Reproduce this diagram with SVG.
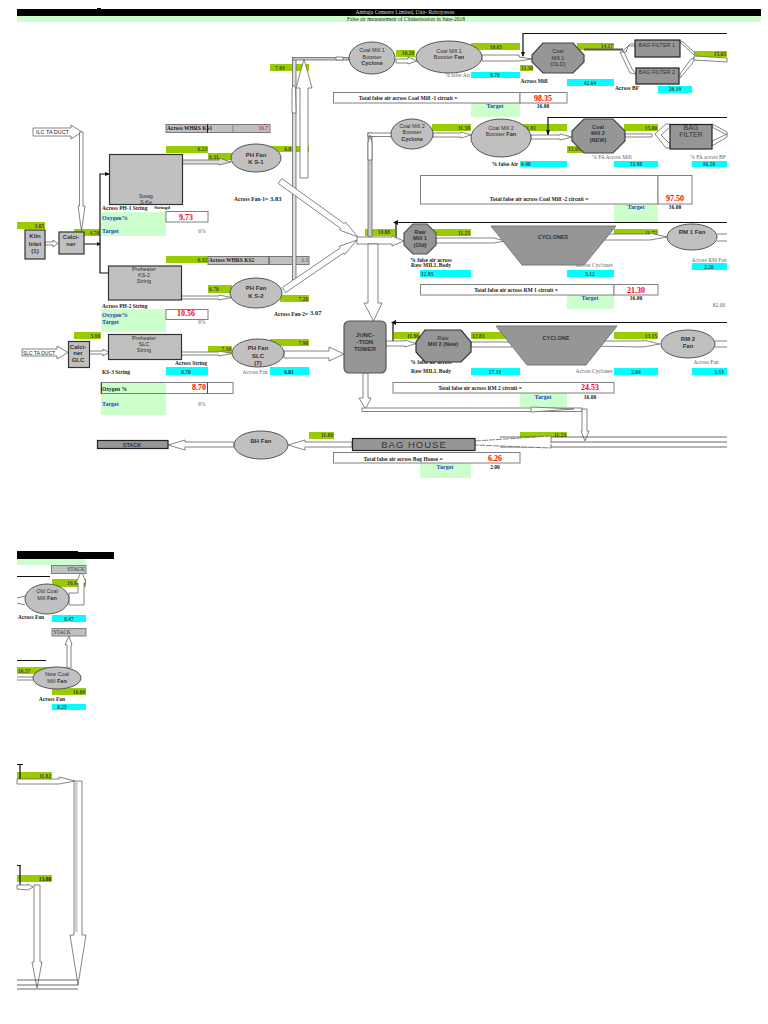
<svg xmlns="http://www.w3.org/2000/svg" width="768" height="1024" viewBox="0 0 768 1024">
<style>
text{font-family:"Liberation Serif","Times New Roman",serif;font-size:5.5px;font-weight:bold;fill:#222}
.n text{font-family:"Liberation Sans",Arial,sans-serif;font-size:5.5px;font-weight:normal;text-anchor:middle;fill:#333}
.m{text-anchor:middle}.e{text-anchor:end}
.b{fill:#99cc00}.c{fill:#00ffff}.l{fill:#ccffcc}
.w{fill:#fff;stroke:#808080;stroke-width:1}
.g{fill:#c0c0c0;stroke:#333;stroke-width:1.2}
.d{fill:#969696;stroke:#222;stroke-width:1.2}
.o{fill:#c0c0c0;stroke:#555;stroke-width:1}
.h{fill:#fff;stroke:#666;stroke-width:.8}
.k{fill:none;stroke:#111;stroke-width:1.2}
.s{fill:none;stroke:#666;stroke-width:.8}
.r{fill:#ff0000;font-size:8px}
.t{fill:#1f3fbf;font-size:6px}
.y{fill:#666;font-weight:normal}
.bv{fill:#444}
</style>
<rect width="768" height="1024" fill="#fff"/>
<g id="header">
<rect x="17" y="9" width="744" height="7" fill="#000"/><rect x="97" y="8" width="4" height="1" fill="#000"/>
<rect class="l" x="17" y="16" width="744" height="6"/>
<text x="405" y="14" class="m" style="fill:#ddd;font-weight:normal;font-size:5.5px">Ambuja Cements Limited, Unit- Rabriyawas</text>
<text x="406" y="20.5" class="m" style="font-weight:normal;font-size:5.5px">False air measurement of Clinkerisation in June-2018</text>
</g>
<g id="shaded">
<rect class="l" x="471" y="103" width="49" height="14"/><rect class="l" x="614" y="204" width="44" height="18"/>
<rect class="l" x="567" y="295" width="47" height="14"/><rect class="l" x="520" y="393" width="47" height="14"/>
<rect class="l" x="420" y="463" width="51" height="15"/><rect class="l" x="101" y="212" width="65" height="24"/>
<rect class="l" x="101" y="309" width="65" height="23"/><rect class="l" x="101" y="382" width="65" height="33"/>
<rect class="l" x="17" y="559" width="69" height="6"/>
</g>
<g id="values-green">
<rect class="b" x="270" y="64" width="39" height="7"/><text x="275" y="69.5" class="bv">7.84</text>
<rect class="b" x="166" y="146" width="42" height="7"/><text x="207" y="151" class="e bv">6.23</text>
<rect class="b" x="208" y="153" width="32" height="7"/><text x="209" y="158.5" class="bv">6.31</text>
<rect class="b" x="270" y="146" width="39" height="6"/><text x="291" y="150.5" class="e bv">6.8</text>
<rect class="b" x="17" y="222" width="28" height="7"/><text x="44" y="227.5" class="e bv">3.85</text>
<rect class="b" x="74" y="229" width="26" height="7"/><text x="99" y="234.5" class="e bv">4.78</text>
<rect class="b" x="396" y="50" width="19" height="7"/><text x="414" y="55" class="e bv">10.20</text>
<rect class="b" x="471" y="43" width="49" height="7"/><text x="502" y="48.5" class="e bv">10.65</text>
<rect class="b" x="520" y="65" width="13" height="6"/><text x="521" y="69.5" class="bv">11.30</text>
<rect class="b" x="577" y="43" width="37" height="7"/><text x="613" y="48" class="e bv">14.17</text>
<rect class="b" x="694" y="51" width="33" height="6"/><text x="726" y="55.5" class="e bv">15.65</text>
<rect class="b" x="432" y="124" width="39" height="7"/><text x="470" y="129.5" class="e bv">11.58</text>
<rect class="b" x="522" y="124" width="45" height="7"/><text x="536" y="129.5" class="e bv">11.81</text>
<rect class="b" x="624" y="124" width="34" height="7"/><text x="657" y="129.5" class="e bv">15.00</text>
<rect class="b" x="567" y="146" width="47" height="7"/><text x="568" y="150.5" class="bv">13.05</text>
<rect class="b" x="365" y="229" width="30" height="7"/><text x="390" y="234" class="e bv">10.88</text>
<rect class="b" x="430" y="229" width="41" height="7"/><text x="470" y="234.5" class="e bv">11.25</text>
<rect class="b" x="614" y="229" width="44" height="7"/><text x="657" y="234.5" class="e bv">11.72</text>
<rect class="b" x="166" y="256" width="42" height="7"/><text x="207" y="261.5" class="e bv">6.32</text>
<rect class="b" x="208" y="285" width="24" height="8"/><text x="209" y="291" class="bv">6.78</text>
<rect class="b" x="280" y="295" width="29" height="7"/><text x="308" y="300.5" class="e bv">7.20</text>
<rect class="b" x="74" y="332" width="27" height="7"/><text x="100" y="337.5" class="e bv">5.90</text>
<rect class="b" x="208" y="346" width="24" height="7"/><text x="231" y="351" class="e bv">7.10</text>
<rect class="b" x="270" y="339" width="39" height="7"/><text x="308" y="344.5" class="e bv">7.98</text>
<rect class="b" x="394" y="332" width="26" height="7"/><text x="419" y="337.5" class="e bv">11.96</text>
<rect class="b" x="471" y="332" width="39" height="7"/><text x="472" y="337.5" class="bv">12.83</text>
<rect class="b" x="614" y="332" width="44" height="7"/><text x="657" y="337.5" class="e bv">13.15</text>
<rect class="b" x="309" y="432" width="25" height="7"/><text x="333" y="436.5" class="e bv">11.80</text>
<rect class="b" x="520" y="432" width="47" height="5"/><text x="566" y="436.5" class="e bv">11.23</text>
<rect class="b" x="52" y="579" width="34" height="8"/><text x="85" y="584.5" class="e bv">16.86%</text>
<rect class="b" x="17" y="667" width="35" height="7"/><text x="18" y="672.5" class="bv">16.57</text>
<rect class="b" x="52" y="688" width="34" height="7"/><text x="85" y="693.5" class="e bv">16.80</text>
<rect class="b" x="17" y="772" width="35" height="8"/><text x="51" y="777.5" class="e bv">11.82</text>
<rect class="b" x="17" y="875" width="35" height="7"/><text x="51" y="880.5" class="e">13.88</text>
</g>
<g id="values-cyan">
<rect class="c" x="471" y="72" width="49" height="6"/><text x="495" y="76.5" class="m bv">8.70</text>
<rect class="c" x="567" y="79" width="47" height="7"/><text x="590" y="84.5" class="m bv">42.64</text>
<rect class="c" x="658" y="86" width="34" height="7"/><text x="675" y="91" class="m bv">28.19</text>
<rect class="c" x="520" y="161" width="47" height="6"/><text x="521" y="165.5" class="bv">4.48</text>
<rect class="c" x="614" y="161" width="44" height="6"/><text x="636" y="165.5" class="m bv">33.98</text>
<rect class="c" x="692" y="161" width="35" height="6"/><text x="709" y="165.5" class="m bv">16.26</text>
<rect class="c" x="420" y="270" width="51" height="7"/><text x="421" y="275.5" class="bv">12.95</text>
<rect class="c" x="567" y="270" width="47" height="7"/><text x="590" y="275.5" class="m bv">5.12</text>
<rect class="c" x="692" y="263" width="35" height="7"/><text x="709" y="268.5" class="m bv">2.20</text>
<rect class="c" x="471" y="368" width="49" height="7"/><text x="495" y="373.5" class="m bv">17.19</text>
<rect class="c" x="614" y="368" width="44" height="7"/><text x="636" y="373.5" class="m bv">2.84</text>
<rect class="c" x="692" y="368" width="35" height="7"/><text x="719" y="373.5" class="m bv">3.33</text>
<rect class="c" x="166" y="367" width="42" height="8"/><text x="186" y="373.5" class="m bv">8.70</text>
<rect class="c" x="270" y="367" width="39" height="8"/><text x="289" y="373.5" class="m">6.81</text>
<rect class="c" x="52" y="615" width="34" height="7"/><text x="69" y="620.5" class="m bv">8.47</text>
<rect class="c" x="52" y="704" width="34" height="6"/><text x="62" y="708.5" class="m bv">8.25</text>
</g>
<g id="boxes">
<rect class="w" x="333.5" y="92.5" width="186.5" height="10.5"/><rect class="w" x="520" y="92.5" width="47" height="10.5"/>
<rect class="w" x="420.5" y="175.5" width="237.5" height="28.5"/><rect class="w" x="658" y="175.5" width="34" height="28.5"/>
<rect class="w" x="420.5" y="284.5" width="193.5" height="10.5"/><rect class="w" x="614" y="284.5" width="44" height="10.5"/>
<rect class="w" x="393" y="382.5" width="221" height="10.5"/>
<rect class="w" x="333.5" y="452.5" width="186.5" height="10.5"/>
<rect class="w" x="166" y="211.5" width="42" height="10.5"/>
<rect class="w" x="166" y="309.5" width="42" height="10"/>
<rect x="101" y="382.5" width="132" height="11" fill="none" stroke="#808080"/><path d="M101.500 382.500V393.500M207.500 382.500V393.500" stroke="#444" fill="none"/>
<rect x="166" y="124.500" width="104" height="8" fill="#c0c0c0" stroke="#777"/><path d="M207.500 124.500V132.500" stroke="#111"/><path d="M233 124.500V132.500" stroke="#888"/>
<rect x="208" y="256.500" width="101" height="8" fill="#c0c0c0" stroke="#777"/><path d="M269 256.500V264.500" stroke="#444"/>
</g>
<g id="labels">
<text x="470" y="76.500" class="e y">% false Air</text><text x="534" y="82.500" class="m">Across Mill</text><text x="627" y="90" class="m">Across BF</text>
<text x="408" y="99.500" class="m">Total false air across  Coal Mill -1 circuit =</text><text x="543" y="100.500" class="m r">98.35</text>
<text x="495" y="108" class="m t">Target</text><text x="543" y="108" class="m">16.00</text>
<text x="505" y="165.500" class="m">% false Air</text><text x="612" y="158.500" class="m y">% FA Across Mill</text><text x="708" y="158.500" class="m y">% FA across BF</text>
<text x="539" y="200.500" class="m">Total false air across  Coal Mill -2 circuit =</text><text x="675" y="201" class="m r">97.50</text>
<text x="636" y="209" class="m t">Target</text><text x="675" y="209" class="m">16.00</text>
<text x="431" y="261.500" class="m">% false air across</text><text x="431" y="267" class="m">Raw MILL Body</text><text x="594" y="267" class="m y">Across Cyclones</text><text x="709" y="261.500" class="m y">Across RM Fan</text>
<text x="516" y="291.500" class="m">Total false air across RM 1 circuit =</text><text x="636" y="292.500" class="m r">21.30</text>
<text x="590" y="299.500" class="m t">Target</text><text x="636" y="299.500" class="m">16.00</text><text x="719" y="306.500" class="m y">82.00</text>
<text x="431" y="364" class="m">% false air across</text><text x="431" y="373" class="m">Raw MILL Body</text><text x="594" y="373" class="m y">Across Cyclones</text><text x="706" y="364" class="m y">Across Fan</text>
<text x="480" y="390" class="m">Total false air across RM 2 circuit =</text><text x="590" y="389.500" class="m r">24.53</text>
<text x="543" y="398.500" class="m t">Target</text><text x="590" y="398.500" class="m">16.00</text>
<text x="403" y="460.500" class="m">Total false air across Bag House =</text><text x="495" y="460.500" class="m r">6.26</text>
<text x="445" y="468.500" class="m t">Target</text><text x="495" y="468.500" class="m">2.00</text>
<text x="167" y="130">Across WHRS KS1</text><text x="268" y="130" class="e" style="fill:#d04040">16.7</text>
<text x="209" y="261.500">Across WHRS KS2</text><text x="308" y="261.500" class="e" style="fill:#d04040">3.3</text>
<text x="234" y="201">Across Fan-1=</text><text x="270" y="201" style="font-size:6.500px">3.83</text>
<text x="274" y="316">Across Fan-2=</text><text x="310" y="315" style="font-size:6.500px">3.07</text>
<text x="102" y="209.500">Across PH-1 String</text><text x="102" y="219.500" class="t">Oxygen%</text><text x="102" y="233" class="t">Target</text>
<text x="202" y="233" class="m y">6%</text><text x="186" y="219.500" class="m r">9.73</text>
<text x="102" y="307.500">Across PH-2 String</text><text x="102" y="316.500" class="t">Oxygen%</text><text x="102" y="323.500" class="t">Target</text>
<text x="186" y="315.500" class="m r">10.56</text><text x="202" y="323.500" class="m y">6%</text>
<text x="191" y="364.500" class="m">Across String</text><text x="102" y="373.500">KS-3 String</text><text x="255" y="373.500" class="m y">Across Fan</text>
<text x="102" y="390.500">Oxygen %</text><text x="199" y="389.500" class="m r">8.70</text><text x="102" y="405.500" class="t">Target</text><text x="202" y="405.500" class="m y">6%</text>
<text x="31" y="618.500" class="m">Across Fan</text><text x="52" y="701" class="m">Across Fan</text>
</g>
<g id="connectors">
<path class="k" d="M523 56V33.500H727M548 135V117.500H727M396 240V222.500H727M393 342V322.500H727"/>
<path d="M521 52L525 52L523 57ZM546 130L550 130L548 136ZM398 225V220L393 222.500ZM396 325V320L391 322.500Z" fill="#111"/>
<path class="k" d="M84 244H100M109 174H100V273H109"/>
<path d="M105 172L110 174L105 176ZM97 242L101 244L97 246Z" fill="#111"/>
<polygon class="h" points="33,128 71,128 71,125 82,132 71,139 71,136 33,136"/>
<polygon class="h" points="79.500,132 83,132 83,206 85,206 81.500,231 78,206 79.500,206"/>
<polygon class="h" points="45,242 53,242 53,240 58,243.500 53,247 53,245 45,245"/>
<polygon class="h" points="182,160 219,160 219,158 231,162 219,165 219,164 182,164" style="fill:#ddd"/>
<polygon class="h" points="181,296 219,296 219,295 232,297.500 219,300 219,299 181,299"/>
<polygon class="h" points="181,352 219,352 219,351 232,353.500 219,356 219,355 181,355"/>
<polygon class="h" points="89,351 103,351 103,349 109,352.500 103,356 103,354 89,354"/>
<polygon class="h" points="22,349 57,349 57,346 68,352.500 57,359 57,356 22,356"/>
<rect class="h" x="292.500" y="58" width="3.500" height="222" style="fill:#ddd"/>
<rect class="h" x="292.500" y="57.500" width="56" height="2.500" style="fill:#ccc"/>
<polygon class="h" points="292,113 292,88 293.500,85 295.500,88 296,113"/>
<polygon class="h" points="336,57 343,57 343,60 336,60"/>
<polygon class="h" points="300,178 308,178 308,88 312,88 304,59 296,88 300,88"/>
<polygon class="h" points="281.800,178.600 278.200,183.400 340.600,228.400 339.500,230 358,237 345.300,222 344.200,223.600"/>
<polygon class="h" points="285.700,292.500 282.300,287.500 340.100,248 339,246.400 357,240 344.600,254.600 343.500,253"/>
<rect class="h" x="368" y="133" width="4" height="104" style="fill:#ccc"/>
<rect class="h" x="368" y="133" width="24" height="3.500" style="fill:#fff"/>
<polygon class="h" points="368,160 368,143 370,135 372,143 372,160"/>
<polygon class="h" points="357,237 392,237 392,236 404,241 392,246 392,244 357,244"/>
<polygon class="h" points="368,244 378,244 378,303 382,303 373.500,321 364,303 368,303"/>
<polygon class="h" points="284,351 329,351 329,347 344,354 329,361 329,358 284,358"/>
<polygon class="h" points="363,373 368,373 368,398 371,398 365.500,409 359,398 363,398"/>
<rect class="h" x="362" y="408" width="220" height="3.500"/>
<polygon class="s" points="531,407 574,409 531,412" style="fill:#fff"/>
<polygon class="h" points="582,409 587,409 587,431 589,431 585,441 581,431 582,431"/>
<path class="s" d="M500 437H727M500 442H727M500 447H727" style="stroke:#444"/>
<polygon class="h" points="475,441 551,436 551,439 551,445 551,448 475,445" style="stroke-dasharray:6 1"/>
<polygon class="h" points="352,442 305,442 305,440 288,445 305,450 305,447 352,447"/>
<polygon class="h" points="234,442 185,442 185,440 168,445 185,450 185,447 234,447"/>
<polygon class="h" points="396,59 408,59 408,57 417,61 408,64 408,63 396,63"/>
<polygon class="h" points="482,55 519,55 519,57 532,59 519,61 482,61"/>
<path d="M584 49.500H623" stroke="#555" stroke-width="2"/>
<polygon class="h" points="622,52 630,44 635,44 635,46 628,46 626,52"/>
<polygon class="h" points="620,52 630,73 636,74 632,69 624,52"/>
<polygon class="h" points="680,42 682,41 695,53 694,55"/>
<polygon class="h" points="680,78 680,74 691,59 695,58 692,64"/>
<polygon class="h" points="694,56 727,58 727,62 694,60"/>
<polygon class="h" points="433,133 461,133 461,132 471,135 461,138 461,137 433,137"/>
<polygon class="h" points="531,135 560,135 560,134 572,137 560,140 560,139 531,139"/>
<polygon class="h" points="625,134 652,134 652,137 625,137"/>
<polygon class="h" points="655,134 666,124 670,124 670,127 661,135 670,144 670,148 666,148"/>
<polygon class="h" points="712,124 727,132 727,135 712,127"/>
<polygon class="h" points="712,141 727,134 727,137 712,146"/>
<polygon class="h" points="436,238 494,238 505,241 494,243 436,243"/>
<polygon class="h" points="592,234 650,234 650,233 667,237 650,240 592,240"/>
<polygon class="h" points="386,341 405,341 405,340 416,343.500 405,347 405,346 386,346"/>
<polygon class="h" points="471,342 512,342 512,347 471,347"/>
<polygon class="h" points="591,341 643,341 643,340 660,344 643,347 591,346"/>
<path class="s" d="M717 234H727M717 241H727M715 341H727M715 347H727"/>
<path class="k" d="M17 576.500H50M17 660.500H46M20 765V784M20 865V885"/>
<path d="M17 764.500H23M17 865.500H21" stroke="#111"/>
<polygon class="h" points="69,593 78,593 78,583 76,583 81.500,571 86,583 84,583 84,605 69,605" style="fill:#fff"/>
<polygon class="h" points="67,668 67,645 65,645 69,636 72,645 71,645 71,668"/>
<path class="s" d="M17 598L25 596M17 603L25 605M17 677H33M17 680H33"/>
<polygon class="h" points="17,779 59,779 59,777 75,781 59,784 17,784"/>
<polygon class="h" points="74,781 82,781 82,935 86,935 78,985 70,935 74,935" style="fill:#fff"/>
<rect x="75" y="782" width="2.500" height="150" fill="#ccc"/>
<polygon class="h" points="17,885 28,885 28,884 33,887 28,890 17,889"/>
<polygon class="h" points="34,885 40,885 40,962 42,962 37,988 32,962 34,962"/>
<path class="s" d="M17 980H78M17 985H78M17 989H78" style="stroke:#444"/>
</g>
<g id="kiln-inlet" class="n"><rect class="g" x="25" y="230" width="20" height="29"/><text x="35" y="238" style="font-weight:bold;font-size:6px">Kiln</text><text x="35" y="245.500" style="font-weight:bold;font-size:6px">Inlet</text><text x="35" y="253" style="font-weight:bold;font-size:6px">(1)</text></g>
<g id="calciner" class="n"><rect class="g" x="59" y="232" width="25" height="22"/><text x="71" y="238.500" style="font-weight:bold;font-size:6px">Calci-</text><text x="71" y="245.500" style="font-weight:bold;font-size:6px">ner</text></g>
<g id="preheater-ks1" class="n"><rect class="g" x="109.500" y="154.500" width="73" height="50"/><text x="146" y="198">Swag</text><text x="146" y="203.500">S-Ke</text></g>
<text x="162" y="209" class="m" style="font-size:5px">Stringd</text>
<g id="preheater-ks2" class="n"><rect class="g" x="108.500" y="266" width="73" height="34"/><text x="144" y="270.500">Preheater</text><text x="144" y="276.500">KS-2</text><text x="144" y="283">String</text></g>
<g id="preheater-slc" class="n"><rect class="g" x="108.500" y="334.500" width="73" height="25"/><text x="144" y="339.500">Preheater</text><text x="144" y="345.500">SLC</text><text x="144" y="351.500">String</text></g>
<g id="calciner-slc" class="n"><rect class="g" x="68.500" y="341.500" width="21" height="26"/><text x="78" y="348.500" style="font-weight:bold;font-size:6px">Calci-</text><text x="78" y="355" style="font-weight:bold;font-size:6px">ner</text><text x="78" y="362" style="font-weight:bold;font-size:6px">GLC</text></g>
<g id="ph-fan-ks1" class="n"><ellipse class="o" cx="256" cy="158" rx="25" ry="14"/><text x="256" y="156.500" style="font-weight:bold;font-size:6px">PH  Fan</text><text x="256" y="164" style="font-weight:bold;font-size:6px">K S-1</text></g>
<g id="ph-fan-ks2" class="n"><ellipse class="o" cx="256" cy="293" rx="26" ry="15"/><text x="256" y="290" style="font-weight:bold;font-size:6px">PH  Fan</text><text x="256" y="298" style="font-weight:bold;font-size:6px">K S-2</text></g>
<g id="ph-fan-slc" class="n"><ellipse class="o" cx="258" cy="353" rx="26" ry="14"/><text x="258" y="350" style="font-weight:bold;font-size:6px">PH  Fan</text><text x="258" y="357.500" style="font-weight:bold;font-size:6px">SLC</text><text x="258" y="365" style="font-weight:bold;font-size:6px">(7)</text></g>
<g id="junction-tower" class="n"><rect class="d" x="344" y="321" width="42" height="52" rx="5" style="stroke:#555"/><text x="365" y="337" style="font-weight:bold;font-size:6px">JUNC-</text><text x="365" y="344" style="font-weight:bold;font-size:6px">-TION</text><text x="365" y="351" style="font-weight:bold;font-size:6px">TOWER</text></g>
<g id="cm1-cyclone" class="n"><ellipse class="o" cx="372" cy="58" rx="23" ry="16"/><text x="372" y="52">Coal Mill 1</text><text x="372" y="58.500">Booster</text><text x="372" y="65" style="font-weight:bold">Cyclone</text></g>
<g id="cm1-fan" class="n"><ellipse class="o" cx="449" cy="57" rx="33" ry="16"/><text x="449" y="52.500">Coal Mill 1</text><text x="449" y="59">Booster <tspan font-weight="bold">Fan</tspan></text></g>
<g id="cm1" class="n"><polygon class="d" points="543,43 573,43 584,55 584,62 573,73 543,73 532,62 532,55" style="stroke:#444"/><text x="558" y="53">Coal</text><text x="558" y="59.500">Mill 1</text><text x="558" y="66">(OLD)</text></g>
<g id="bag-filter-1" class="n"><rect class="d" x="635" y="40" width="45" height="17"/><text x="657" y="46.500">BAG FILTER 1</text></g>
<g id="bag-filter-2" class="n"><rect class="d" x="636" y="68" width="43" height="16"/><text x="657" y="74">BAG FILTER 2</text></g>
<g id="cm2-cyclone" class="n"><ellipse class="o" cx="412" cy="134" rx="21" ry="15"/><text x="412" y="128">Coal Mill 2</text><text x="412" y="134">Booster</text><text x="412" y="140.500" style="font-weight:bold">Cyclone</text></g>
<g id="cm2-fan" class="n"><ellipse class="o" cx="501" cy="138" rx="30" ry="19"/><text x="501" y="130">Coal Mill 2</text><text x="501" y="136">Booster <tspan font-weight="bold">Fan</tspan></text></g>
<g id="cm2" class="n"><polygon class="d" points="584,119 613,119 625,131 625,141 613,153 584,153 572,141 572,131" style="stroke:#444"/><text x="598" y="129" style="font-weight:bold">Coal</text><text x="598" y="135" style="font-weight:bold">Mill 2</text><text x="598" y="141.500" style="font-weight:bold">(NEW)</text></g>
<g id="bag-filter" class="n"><rect class="d" x="670" y="124.500" width="42" height="24.500"/><text x="691" y="130" style="font-size:7px">BAG</text><text x="691" y="137" style="font-size:7px">FILTER</text></g>
<g id="raw-mill-1" class="n"><polygon class="d" points="413,224 427,224 436,233 436,245 427,254 413,254 404,245 404,233" style="stroke:#555"/><text x="420" y="234" style="font-weight:bold">Raw</text><text x="420" y="240" style="font-weight:bold">Mill 1</text><text x="420" y="247" style="font-weight:bold">(Old)</text></g>
<g id="cyclones" class="n"><polygon points="491,226 616,226 584,265 522,265" fill="#969696" stroke="#777"/><text x="553" y="239" style="font-weight:bold;font-size:5.500px">CYCLONES</text></g>
<g id="rm1-fan" class="n"><ellipse class="o" cx="692" cy="237" rx="25" ry="13"/><text x="692" y="234" style="font-weight:bold;font-size:6px">RM 1 Fan</text></g>
<g id="raw-mill-2" class="n"><polygon class="d" points="425,330 461,330 471,342 471,352 461,362 425,362 416,352 416,342" style="stroke:#333"/><text x="443" y="340">Raw</text><text x="443" y="345.500" style="font-weight:bold">Mill 2 (New)</text></g>
<g id="cyclone" class="n"><polygon points="496,326 617,326 586,365 527,365" fill="#969696" stroke="#777"/><text x="556" y="340" style="font-weight:bold;font-size:5.500px">CYCLONE</text></g>
<g id="rm2-fan" class="n"><ellipse class="o" cx="688" cy="344" rx="27" ry="14"/><text x="688" y="341" style="font-weight:bold;font-size:6px">RM 2</text><text x="688" y="348" style="font-weight:bold;font-size:6px">Fan</text></g>
<g id="stack-main" class="n"><rect class="d" x="97.500" y="440.500" width="70.500" height="8"/><text x="132" y="446.500" style="font-weight:bold">STACK</text></g>
<g id="bh-fan" class="n"><ellipse class="o" cx="261" cy="445" rx="27" ry="14"/><text x="261" y="442.500" style="font-weight:bold;font-size:6px">BH Fan</text></g>
<g id="bag-house" class="n"><rect class="d" x="352.500" y="438.500" width="122.500" height="12"/><text x="414" y="447.500" style="font-size:9.500px;letter-spacing:1px">BAG HOUSE</text></g>
<g id="left-header"><rect x="17" y="552" width="97" height="7" fill="#000"/><rect x="17" y="551" width="61" height="1" fill="#000"/></g>
<g id="stack-old" class="n"><rect x="51.500" y="565.500" width="34.500" height="8" fill="#c0c0c0" stroke="#808080"/><text x="76" y="570.500" style="font-family:'Liberation Serif',serif">STACK</text></g>
<g id="stack-new" class="n"><rect x="52" y="628.500" width="34" height="7.500" fill="#c0c0c0" stroke="#808080"/><text x="62" y="633.500" style="font-family:'Liberation Serif',serif">STACK</text></g>
<g id="old-coal-mill-fan" class="n"><ellipse class="o" cx="47" cy="599" rx="22" ry="15"/><text x="47" y="593">Old Coal</text><text x="47" y="600">Mill  <tspan font-weight="bold">Fan</tspan></text></g>
<g id="new-coal-mill-fan" class="n"><ellipse class="o" cx="57" cy="678" rx="24" ry="11"/><text x="57" y="676">New Coal</text><text x="57" y="682.500">Mill <tspan font-weight="bold">Fan</tspan></text></g>
<text x="36" y="134" style="font-family:'Liberation Sans',Arial,sans-serif;font-weight:normal;font-size:5.500px">ILC TA DUCT</text>
<text x="23" y="354.500" style="font-family:'Liberation Sans',Arial,sans-serif;font-weight:normal;font-size:5px">SLC TA DUCT</text>
</svg>
